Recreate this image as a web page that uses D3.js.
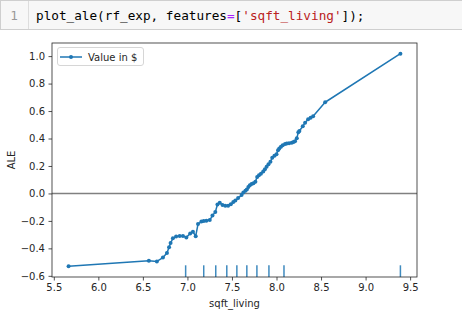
<!DOCTYPE html>
<html>
<head>
<meta charset="utf-8">
<script src="https://cdn.jsdelivr.net/npm/d3@7"></script>
<style>
body{margin:0;background:#fff;}
svg text{font-family:"DejaVu Sans",sans-serif;}
</style>
</head>
<body>
<svg width="462" height="329"></svg>
<script>
// ALE curve (sqft_living on log scale)
var aleX = [5.666,6.567,6.657,6.725,6.770,6.794,6.811,6.837,6.873,6.913,6.950,6.988,7.031,7.062,7.093,7.119,7.157,7.183,7.213,7.251,
  7.281,7.313,7.337,7.363,7.394,7.425,7.457,7.487,7.515,7.538,7.569,7.608,7.628,7.651,7.667,7.684,7.701,7.720,7.741,7.763,
  7.783,7.803,7.825,7.851,7.870,7.889,7.910,7.932,7.952,7.977,8.000,8.017,8.031,8.050,8.070,8.096,8.115,8.141,8.171,8.191,
  8.208,8.228,8.245,8.257,8.295,8.321,8.355,8.383,8.411,8.546,9.391];
var aleY = [-0.531,-0.490,-0.495,-0.467,-0.434,-0.391,-0.361,-0.327,-0.314,-0.309,-0.309,-0.320,-0.292,-0.279,-0.311,-0.223,-0.205,-0.201,-0.199,-0.194,
  -0.161,-0.136,-0.081,-0.067,-0.085,-0.089,-0.089,-0.078,-0.063,-0.052,-0.034,-0.012,0.006,0.019,0.028,0.046,0.060,0.068,0.075,0.086,
  0.119,0.133,0.144,0.159,0.177,0.195,0.213,0.231,0.260,0.275,0.286,0.315,0.327,0.340,0.351,0.360,0.364,0.366,0.369,0.375,
  0.380,0.402,0.446,0.455,0.489,0.515,0.540,0.551,0.562,0.664,1.018];
// deciles of the feature (rug)
var rugX = [6.980,7.183,7.318,7.442,7.555,7.667,7.780,7.915,8.084,9.391];
var xTicks = [5.5,6.0,6.5,7.0,7.5,8.0,8.5,9.0,9.5];
var yTicks = [-0.6,-0.4,-0.2,0.0,0.2,0.4,0.6,0.8,1.0];

var svg = d3.select('svg');

// notebook code cell
var cell = svg.append('g');
cell.append('rect').attr('x',0.5).attr('y',0.5).attr('width',470).attr('height',29).attr('fill','#f7f7f7').attr('stroke','#cfcfcf');
cell.append('line').attr('x1',28.5).attr('x2',28.5).attr('y1',1).attr('y2',29).attr('stroke','#dddddd');
cell.append('text').attr('x',18).attr('y',20).attr('text-anchor','end').attr('fill','#999').style('font-family','DejaVu Sans Mono,monospace').style('font-size','12.7px').text('1');
var code = cell.append('text').attr('x',36).attr('y',20).style('font-family','DejaVu Sans Mono,monospace').style('font-size','12.7px').attr('xml:space','preserve');
code.append('tspan').attr('fill','#000').text('plot_ale(rf_exp, features');
code.append('tspan').attr('fill','#aa22ff').text('=');
code.append('tspan').attr('fill','#000').text('[');
code.append('tspan').attr('fill','#ba2121').text("'sqft_living'");
code.append('tspan').attr('fill','#000').text(']);');

var L = 52, R = 417, T = 43, B = 277;

var xmin = d3.min(aleX), xmax = d3.max(aleX), ymin = d3.min(aleY), ymax = d3.max(aleY);
var mx = (xmax-xmin)*0.05, my = (ymax-ymin)*0.05;
var x = d3.scaleLinear().domain([xmin-mx, xmax+mx]).range([L, R]);
var y = d3.scaleLinear().domain([ymin-my, ymax+my]).range([B, T]);

// zero line
svg.append('line').attr('x1',L).attr('x2',R).attr('y1',y(0)).attr('y2',y(0)).attr('stroke','#808080').attr('stroke-width',1.5);

// rug
svg.selectAll('.rug').data(rugX).enter().append('line').attr('class','rug')
  .attr('x1',function(d){return x(d);}).attr('x2',function(d){return x(d);})
  .attr('y1',B).attr('y2',B-(B-T)*0.05)
  .attr('stroke','#1f77b4').attr('stroke-width',1.5).attr('opacity',0.85);

// curve
var pts = aleX.map(function(d,i){return [d, aleY[i]];});
var line = d3.line().x(function(d){return x(d[0]);}).y(function(d){return y(d[1]);});
svg.append('path').datum(pts).attr('d',line).attr('fill','none').attr('stroke','#1f77b4').attr('stroke-width',1.5).attr('stroke-linejoin','round');
svg.selectAll('.pt').data(pts).enter().append('circle').attr('class','pt')
  .attr('cx',function(d){return x(d[0]);}).attr('cy',function(d){return y(d[1]);})
  .attr('r',2).attr('fill','#1f77b4');

// axes
var fmt = d3.format('.1f');
var xa = svg.append('g').attr('transform','translate(0,'+B+')')
  .call(d3.axisBottom(x).tickValues(xTicks).tickFormat(fmt).tickSize(3.5).tickPadding(3.5).tickSizeOuter(0));
var ya = svg.append('g').attr('transform','translate('+L+',0)')
  .call(d3.axisLeft(y).tickValues(yTicks).tickFormat(fmt).tickSize(3.5).tickPadding(3.5).tickSizeOuter(0));
[xa,ya].forEach(function(a){
  a.select('.domain').remove();
  a.selectAll('line').attr('stroke','#262626').attr('stroke-width',0.8);
  a.selectAll('text').attr('fill','#262626').style('font-size','10px').style('font-family','DejaVu Sans');
});

// frame
svg.append('rect').attr('x',L).attr('y',T).attr('width',R-L).attr('height',B-T).attr('fill','none').attr('stroke','#262626').attr('stroke-width',0.8);

// labels
svg.append('text').attr('x',(L+R)/2).attr('y',307).attr('text-anchor','middle').attr('fill','#262626').style('font-size','10px').text('sqft_living');
svg.append('text').attr('transform','translate(15,'+((T+B)/2)+') rotate(-90)').attr('text-anchor','middle').attr('fill','#262626').style('font-size','10px').text('ALE');

// legend
var lg = svg.append('g');
lg.append('rect').attr('x',57.5).attr('y',47.5).attr('width',86).attr('height',18).attr('rx',2.5).attr('fill','#fff').attr('fill-opacity',0.8).attr('stroke','#d6d6d6');
lg.append('line').attr('x1',60).attr('x2',82).attr('y1',57).attr('y2',57).attr('stroke','#1f77b4').attr('stroke-width',1.5);
lg.append('circle').attr('cx',71).attr('cy',57).attr('r',2).attr('fill','#1f77b4');
lg.append('text').attr('x',88).attr('y',60.5).attr('fill','#262626').style('font-size','10px').text('Value in $');
</script>
</body>
</html>
